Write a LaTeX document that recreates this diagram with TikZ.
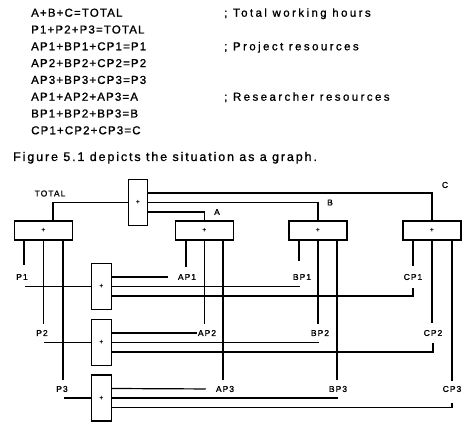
\documentclass[tikz,border=0pt]{standalone}
\usepackage{fontspec}
\setmainfont{Liberation Sans}
\newfontfamily\eqfont[LetterSpace=10,FakeBold=1.2]{Liberation Sans}
\newfontfamily\txtfont[LetterSpace=21,FakeBold=1.2]{Liberation Sans}
\newfontfamily\figfont[LetterSpace=15,FakeBold=1.2]{Liberation Sans}
\newfontfamily\lblfont[LetterSpace=12,FakeBold=1.2]{Liberation Sans}
\usetikzlibrary{calc}
\begin{document}
\begin{tikzpicture}[x=1pt,y=-1pt,
  wire/.style={line width=1.2pt},
  eq/.style={font=\eqfont\fontsize{11.5}{12}\selectfont, inner sep=0pt, anchor=base west},
  txt/.style={font=\txtfont\fontsize{11.5}{12}\selectfont, inner sep=0pt, anchor=base west},
  figtxt/.style={font=\figfont\fontsize{12.5}{13}\selectfont, inner sep=0pt, anchor=base west},
  lbl/.style={font=\lblfont\fontsize{8.5}{9}\selectfont, inner sep=1pt},
  sumbox/.style={draw, line width=1.2pt, inner sep=0pt, font=\bfseries\fontsize{7}{7}\selectfont},
  hbox/.style={sumbox, minimum width=58pt, minimum height=19pt},
  vbox/.style={sumbox, minimum width=19.5pt, minimum height=46pt}]
\useasboundingbox (0,0) rectangle (474,422);
% equations
\node[eq] (e1) at (31,16.7) {A+B+C=TOTAL};
\node[eq] (e2) at (31,33.5) {P1+P2+P3=TOTAL};
\node[eq] (e3) at (31,50.3) {AP1+BP1+CP1=P1};
\node[eq] (e4) at (31,67.1) {AP2+BP2+CP2=P2};
\node[eq] (e5) at (31,83.9) {AP3+BP3+CP3=P3};
\node[eq] (e6) at (31,100.7) {AP1+AP2+AP3=A};
\node[eq] (e7) at (31,117.5) {BP1+BP2+BP3=B};
\node[eq] (e8) at (31,134.3) {CP1+CP2+CP3=C};
\node[txt] (c1) at (224,16.7) {; Total working hours};
\node[txt] (c3) at (224,50.3) {; Project resources};
\node[txt] (c6) at (224,100.7) {; Researcher resources};
\node[figtxt] (fig) at (13,161) {Figure 5.1 depicts the situation as a graph.};
% boxes
\node[vbox] (T) at (138,202.5) {+};
\node[hbox] (Pb) at (43.5,230.5) {+};
\node[hbox] (Ab) at (204.5,230.5) {+};
\node[hbox] (Bb) at (318,230.5) {+};
\node[hbox] (Cb) at (432,230.5) {+};
\node[vbox] (R1) at (101.5,286.5) {+};
\node[vbox] (R2) at (101.5,342.5) {+};
\node[vbox] (R3) at (101.5,398) {+};
% labels
\node[lbl] (TOT) at (50,193.5) {TOTAL};
\node[lbl] (LA) at (217,212) {A};
\node[lbl] (LB) at (330,202.5) {B};
\node[lbl] (LC) at (445,185) {C};
\node[lbl] (P1) at (22,277) {P1};
\node[lbl] (P2) at (42,333) {P2};
\node[lbl] (P3) at (62,389) {P3};
\node[lbl] (AP1) at (187,277) {AP1};
\node[lbl] (AP2) at (207,333) {AP2};
\node[lbl] (AP3) at (225,389) {AP3};
\node[lbl] (BP1) at (302,277) {BP1};
\node[lbl] (BP2) at (320,333) {BP2};
\node[lbl] (BP3) at (338,389) {BP3};
\node[lbl] (CP1) at (413,277) {CP1};
\node[lbl] (CP2) at (433,333) {CP2};
\node[lbl] (CP3) at (452,389) {CP3};
% outlet points on the bottoms of the total boxes
\coordinate (p1o) at ($(Pb.south)+(-19.5,0)$);
\coordinate (p2o) at (Pb.south);
\coordinate (p3o) at ($(Pb.south)+(19.5,0)$);
\coordinate (a1o) at ($(Ab.south)+(-18.5,0)$);
\coordinate (a2o) at (Ab.south);
\coordinate (a3o) at ($(Ab.south)+(18.5,0)$);
\coordinate (b1o) at ($(Bb.south)+(-19,0)$);
\coordinate (b2o) at (Bb.south);
\coordinate (b3o) at ($(Bb.south)+(19,0)$);
\coordinate (c1o) at ($(Cb.south)+(-19,0)$);
\coordinate (c2o) at (Cb.south);
\coordinate (c3o) at ($(Cb.south)+(20,0)$);
% top connections
\draw[wire] (T.west) -| ($(Pb.north)+(9.5,0)$);
\draw[wire] ($(T.east)+(0,-9.5)$) -| (Cb.north);
\draw[wire] (T.east) -| (Bb.north);
\draw[wire] ($(T.east)+(0,9.5)$) -| (Ab.north);
% verticals from the total boxes
\draw[wire,shorten >=8pt] (p1o) -- (p1o |- P1.north);
\draw[wire,shorten >=5pt] (p2o) -- (p2o |- P2.north);
\draw[wire,shorten >=5pt] (p3o) -- (p3o |- P3.north);
\draw[wire,shorten >=6pt] (a1o) -- (a1o |- AP1.north);
\draw[wire,shorten >=5pt] (a2o) -- (a2o |- AP2.north);
\draw[wire,shorten >=5pt] (a3o) -- (a3o |- AP3.north);
\draw[wire,shorten >=12pt] (b1o) -- (b1o |- BP1.north);
\draw[wire,shorten >=5pt] (b2o) -- (b2o |- BP2.north);
\draw[wire,shorten >=5pt] (b3o) -- (b3o |- BP3.north);
\draw[wire,shorten >=7pt] (c1o) -- (c1o |- CP1.north);
\draw[wire,shorten >=6pt] (c2o) -- (c2o |- CP2.north);
\draw[wire,shorten >=4pt] (c3o) -- (c3o |- CP3.north);
% project inputs
\draw[wire] ($(R1.west -| P1)+(3,0)$) -- (R1.west);
\draw[wire] ($(R2.west -| P2)+(2,0)$) -- (R2.west);
\draw[wire] ($(R3.west -| P3)+(2,0)$) -- (R3.west);
% project box 1 outputs
\draw[wire,shorten >=9pt] ($(R1.east)+(0,-9.5)$) -- (AP1.west);
\draw[wire] (R1.east) -- ($(R1.east -| BP1)+(-2,0)$);
\draw[wire] ($(R1.east)+(0,9.5)$) -| ($(CP1.south)+(0,7)$);
% project box 2 outputs
\draw[wire] ($(R2.east)+(0,-9.5)$) -- (AP2.west);
\draw[wire] (R2.east) -- ($(R2.east -| BP2)+(-1,0)$);
\draw[wire] ($(R2.east)+(0,9.5)$) -| ($(CP2.south)+(0,6)$);
% project box 3 outputs
\draw[wire,shorten >=9pt] ($(R3.east)+(0,-9.5)$) -- (AP3.west);
\draw[wire] (R3.east) -- (R3.east -| BP3);
\draw[wire] ($(R3.east)+(0,9.5)$) -| ($(CP3.south)+(0,10)$);
\end{tikzpicture}
\end{document}
